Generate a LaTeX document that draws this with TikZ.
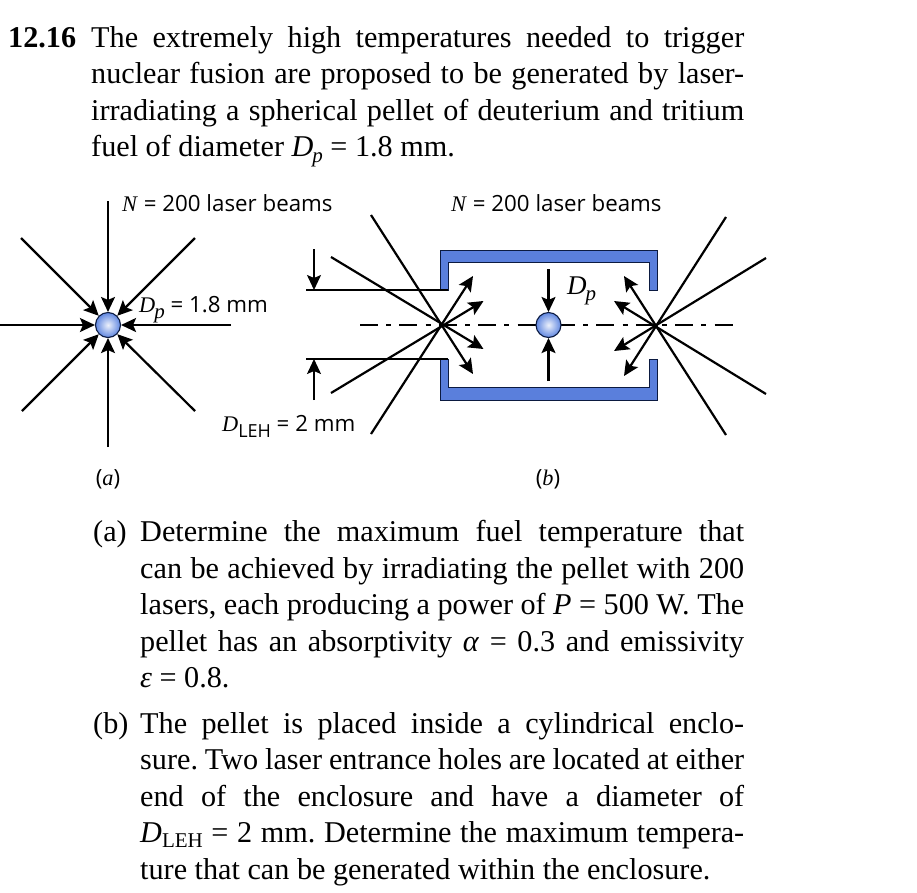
\documentclass[tikz,border=0pt]{standalone}
\usepackage{fontspec}
\setmainfont{Liberation Serif}
\setsansfont{Open Sans}
\usetikzlibrary{arrows.meta}
\definecolor{wallblue}{HTML}{5A7FDC}
\definecolor{walledge}{HTML}{0B1A40}
\definecolor{pelletblue}{HTML}{5F86E0}
\newcommand{\Dp}{{\rmfamily\textit{D}\kern-1pt\raisebox{-6pt}{\textit{\fontsize{21}{21}\selectfont p}}}}
\frenchspacing
\tikzset{
	bodytext/.style={font=\fontsize{30.2}{36.6}\selectfont, anchor=north west, align=justify, inner sep=0pt},
	figtext/.style={font=\sffamily\fontsize{22.3}{24}\selectfont, anchor=base west, inner sep=0pt},
	beam/.style={line width=2.2pt},
	pellet/.style={circle, draw=walledge, line width=1.1pt, minimum size=25pt, inner sep=0pt, inner color=pelletblue!12, outer color=pelletblue},
	dimline/.style={line width=1.6pt}
}
\begin{document}
\begin{tikzpicture}[x=1pt, y=-1pt, line join=miter, >={Stealth[length=15pt,width=14pt,inset=3pt]}]
	\useasboundingbox (0,0) rectangle (917,892);
	% problem statement
	\node[anchor=base west, inner sep=0pt, font=\fontsize{30.2}{36.6}\selectfont\bfseries] (num) at (8,47) {12.16};
	\node[bodytext, text width=653pt] (stmt) at (91,26) {The extremely high temperatures needed to trigger\linebreak
		nuclear fusion are proposed to be generated by laser-\linebreak
		irradiating a spherical pellet of deuterium and tritium\linebreak
		fuel of diameter \Dp{} = 1.8 mm.};
	% part a
	\coordinate (aN) at (108,201);
	\coordinate (aS) at (108,447);
	\coordinate (aW) at (0,325);
	\coordinate (aE) at (231,325);
	\coordinate (aNW) at (21,238);
	\coordinate (aNE) at (195,238);
	\coordinate (aSW) at (22,411);
	\coordinate (aSE) at (195,411);
	\node[pellet] (pelletA) at (108,325) {};
	\foreach \e in {aN,aS,aW,aE,aNW,aNE,aSW,aSE}
		\draw[beam,->] (\e) -- (pelletA);
	\node[figtext] (beamsA) at (122,211) {{\rmfamily\textit{N}} = 200 laser beams};
	\node[figtext] (dpA) at (139,312) {\Dp{} = 1.8 mm};
	\node[figtext] (dleh) at (222,431) {{\rmfamily\textit{D}}\raisebox{-6pt}{\fontsize{18}{18}\selectfont LEH} = 2 mm};
	\node[figtext, anchor=base] (capA) at (108,485) {({\rmfamily\textit{a}})};
	% part b
	\draw[draw=walledge, line width=0.9pt, fill=wallblue]
		(448,290)--(440,290)--(440,250)--(657,250)--(657,290)--(649,290)--(649,262)--(448,262)--cycle
		(448,359)--(440,359)--(440,400)--(657,400)--(657,359)--(649,359)--(649,387)--(448,387)--cycle;
	\draw[line width=1.4pt, dash pattern=on 18pt off 8.2pt on 5pt off 8.2pt] (360,325) -- (733,325);
	\node[pellet] (pelletB) at (548.5,325) {};
	\coordinate (lo1) at (371,215);
	\coordinate (lo2) at (331,257);
	\coordinate (lo3) at (331,393);
	\coordinate (lo4) at (371,434);
	\coordinate (li1) at (473,374);
	\coordinate (li2) at (483.5,349);
	\coordinate (li3) at (483.5,301);
	\coordinate (li4) at (473,276);
	\coordinate (ro1) at (726,217);
	\coordinate (ro2) at (766,258);
	\coordinate (ro3) at (766,394);
	\coordinate (ro4) at (726,435);
	\coordinate (ri1) at (624,376);
	\coordinate (ri2) at (614,351);
	\coordinate (ri3) at (614,301);
	\coordinate (ri4) at (624,276);
	\foreach \i in {1,2,3,4} {
		\draw[beam,->] (lo\i) -- (li\i);
		\draw[beam,->] (ro\i) -- (ri\i);
	}
	\coordinate (dpT) at (548.5,269);
	\coordinate (dpB) at (548.5,381);
	\draw[beam,->] (dpT) -- (pelletB);
	\draw[beam,->] (dpB) -- (pelletB);
	\coordinate (lehTL) at (306,290);
	\coordinate (lehTR) at (448,290);
	\coordinate (lehBL) at (306,359);
	\coordinate (lehBR) at (448,359);
	\draw[dimline] (lehTL) -- (lehTR);
	\draw[dimline] (lehBL) -- (lehBR);
	\coordinate (lehT) at (314,249);
	\coordinate (lehTa) at (314,290);
	\coordinate (lehB) at (314,400);
	\coordinate (lehBa) at (314,359);
	\draw[dimline,->] (lehT) -- (lehTa);
	\draw[dimline,->] (lehB) -- (lehBa);
	\node[figtext] (beamsB) at (451,211) {{\rmfamily\textit{N}} = 200 laser beams};
	\node[figtext, font=\fontsize{27}{27}\selectfont] (dpLabel) at (567,294) {\Dp};
	\node[figtext, anchor=base] (capB) at (548,485) {({\rmfamily\textit{b}})};
	% questions
	\node[anchor=base west, inner sep=0pt, font=\fontsize{30.2}{36.6}\selectfont] (qa) at (93,541) {(a)};
	\node[bodytext, text width=604pt] (qaText) at (140,520) {Determine the maximum fuel temperature that\linebreak
		can be achieved by irradiating the pellet with 200\linebreak
		lasers, each producing a power of \textit{P} = 500 W. The\linebreak
		pellet has an absorptivity \textit{α} = 0.3 and emissivity\linebreak
		\textit{ε} = 0.8.};
	\node[anchor=base west, inner sep=0pt, font=\fontsize{30.2}{36.6}\selectfont] (qb) at (93,733) {(b)};
	\node[bodytext, text width=604pt] (qbText) at (140,712) {The pellet is placed inside a cylindrical enclo-\linebreak
		sure. Two laser entrance holes are located at either\linebreak
		end of the enclosure and have a diameter of\linebreak
		\textit{D}\raisebox{-5pt}{\fontsize{21}{21}\selectfont LEH} = 2 mm. Determine the maximum tempera-\linebreak
		ture that can be generated within the enclosure.};
\end{tikzpicture}
\end{document}
